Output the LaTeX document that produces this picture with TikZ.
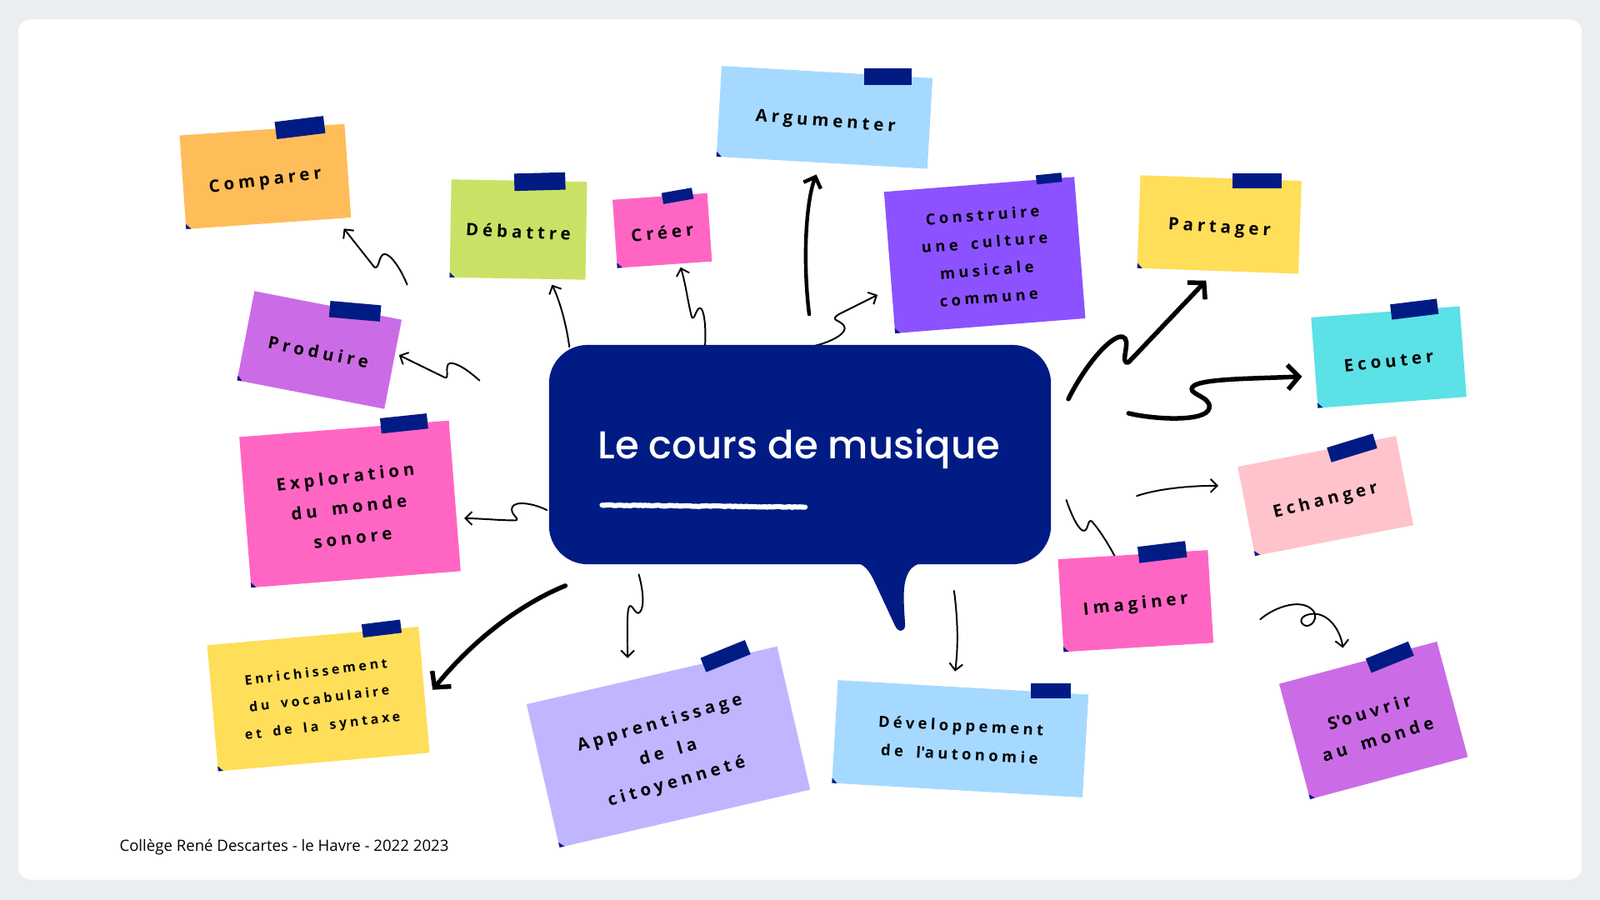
\documentclass[tikz,border=0pt]{standalone}
\usepackage{fontspec}
\usetikzlibrary{arrows.meta,calc,decorations.pathmorphing}
\newfontfamily\notefont{Open Sans}[LetterSpace=24, WordSpace=1.7]
\newfontfamily\piedfont{Open Sans}
\newfontfamily\titrefont{Poppins Medium}
\definecolor{fond}{HTML}{EBEEF1}
\definecolor{marine}{HTML}{001C84}
\definecolor{cOrange}{HTML}{FFBD59}
\definecolor{cLime}{HTML}{C9E265}
\definecolor{cRose}{HTML}{FF66C4}
\definecolor{cBleu}{HTML}{A6D9FF}
\definecolor{cViolet}{HTML}{8C52FF}
\definecolor{cJaune}{HTML}{FFDE59}
\definecolor{cCyan}{HTML}{5CE1E6}
\definecolor{cRosePale}{HTML}{FFC3CB}
\definecolor{cMauve}{HTML}{CB6CE6}
\definecolor{cLavande}{HTML}{C0B6FF}

\begin{document}
\begin{tikzpicture}[x=1pt, y=-1pt, line cap=round, line join=round,
  note/.style={inner sep=0pt, outer sep=0pt},
  ruban/.style={fill=marine, inner sep=0pt, minimum height=16pt},
  etiq/.style={font=\notefont\bfseries\fontsize{16.7}{30}\selectfont, align=center, inner sep=0pt},
  trait/.style={line width=1.6pt},
  fine/.style={line width=1.6pt, -{Straight Barb[length=6.5pt, width=13pt]}},
  moyen/.style={line width=3.6pt, -{Straight Barb[length=9pt, width=18pt]}},
  gros/.style={line width=4.5pt, -{Straight Barb[length=11pt, width=24pt]}}]
  % fond et carte
  \path[fill=fond, use as bounding box] (0,0) rectangle (1568,882);
  \fill[white, rounded corners=12pt] (18,19) rectangle (1550,862);

  % fleches
  \coordinate (d-comparer) at (399,279);  \coordinate (f-comparer) at (337,224);
  \draw[fine] (d-comparer) .. controls (393,264) and (383,249) .. (377,249)
    .. controls (371,249) and (372,264) .. (367,262) -- (f-comparer);
  \coordinate (d-produire) at (470,373);  \coordinate (f-produire) at (391,348);
  \draw[fine] (d-produire) .. controls (459,363) and (447,355) .. (441,356)
    .. controls (435,357) and (441,372) .. (436,370) -- (f-produire);
  \coordinate (d-debattre) at (558,340);  \coordinate (f-debattre) at (541,279);
  \draw[fine] (d-debattre) .. controls (555,318) and (549,296) .. (f-debattre);
  \coordinate (d-creer) at (691,338);  \coordinate (f-creer) at (667,262);
  \draw[fine] (d-creer) .. controls (692,320) and (690,302) .. (686,302)
    .. controls (682,302) and (681,314) .. (678,311)
    .. controls (674,296) and (672,278) .. (f-creer);
  \coordinate (d-argumenter) at (793,308);  \coordinate (f-argumenter) at (800,171);
  \draw[moyen] (d-argumenter) .. controls (787,260) and (789,200) .. (f-argumenter);
  \coordinate (d-construire) at (798,339);  \coordinate (f-construire) at (860,289);
  \draw[fine] (d-construire) .. controls (815,335) and (832,326) .. (827,319)
    .. controls (822,313) and (813,314) .. (822,308) -- (f-construire);
  \coordinate (d-partager) at (1047,391);  \coordinate (f-partager) at (1182,275);
  \draw[gros] (d-partager) .. controls (1065,355) and (1090,328) .. (1100,330)
    .. controls (1110,332) and (1096,358) .. (1106,355) -- (f-partager);
  \coordinate (d-ecouter) at (1106,405);  \coordinate (f-ecouter) at (1276,369);
  \draw[gros] (d-ecouter) .. controls (1130,411) and (1182,414) .. (1185,400)
    .. controls (1188,388) and (1160,386) .. (1170,378)
    .. controls (1180,371) and (1230,371) .. (f-ecouter);
  \coordinate (d-echanger) at (1114,486);  \coordinate (f-echanger) at (1194,476);
  \draw[fine] (d-echanger) .. controls (1135,479) and (1165,476) .. (f-echanger);
  \coordinate (d-imaginer) at (1045,490);  \coordinate (f-imaginer) at (1093,546);
  \draw[trait] (d-imaginer) .. controls (1050,505) and (1058,522) .. (1063,520)
    .. controls (1067,518) and (1066,508) .. (1070,511)
    .. controls (1078,520) and (1086,533) .. (f-imaginer);
  \coordinate (d-souvrir) at (1235,607);  \coordinate (f-souvrir) at (1316,635);
  \draw[fine] (d-souvrir) .. controls (1250,594) and (1278,585) .. (1288,600)
    .. controls (1292,608) and (1282,618) .. (1276,611)
    .. controls (1272,605) and (1282,600) .. (1292,602)
    .. controls (1305,605) and (1314,620) .. (f-souvrir);
  \coordinate (d-develop) at (935,579);  \coordinate (f-develop) at (936,658);
  \draw[fine] (d-develop) .. controls (939,610) and (939,635) .. (f-develop);
  \coordinate (d-apprent) at (626,563);  \coordinate (f-apprent) at (615,645);
  \draw[fine] (d-apprent) .. controls (630,577) and (632,595) .. (627,600)
    .. controls (623,604) and (620,592) .. (617,594)
    .. controls (614,597) and (615,620) .. (f-apprent);
  \coordinate (d-enrich) at (554,574);  \coordinate (f-enrich) at (424,676);
  \draw[gros] (d-enrich) .. controls (515,590) and (468,622) .. (f-enrich);
  \coordinate (d-explo) at (536,500);  \coordinate (f-explo) at (455,508);
  \draw[fine] (d-explo) .. controls (525,494) and (505,490) .. (502,497)
    .. controls (499,504) and (511,509) .. (505,510)
    .. controls (490,510) and (470,508) .. (f-explo);

  % bulle centrale
  \node[fill=marine, rounded corners=38pt, minimum width=492pt, minimum height=215pt] (bulle) at (784,445.5) {};
  \fill[marine] (834,550) .. controls (848,552) and (852,560) .. (857,570) -- (877,613)
    .. controls (880,620) and (887,620) .. (887,612) .. controls (886,595) and (884,575) .. (889,564)
    .. controls (892,556) and (897,553) .. (908,550) -- cycle;
  \node[text=white, font=\titrefont\fontsize{38}{40}\selectfont, inner sep=0pt] (titre) at (783,440) {Le cours de musique};
  % trait a la craie
  \draw[white, line width=5pt, decorate, decoration={random steps, segment length=2pt, amplitude=0.4pt}]
    (590,495) -- (789,497);

  % post-it
  \node[note, fill=cOrange, minimum width=162pt, minimum height=92pt, rotate=4] (comparer) at (260,173) {};
  \node[ruban, minimum width=48pt, minimum height=17pt, rotate=7] (r-comparer) at (294,125) {};
  \node[etiq, rotate=7] (t-comparer) at (260,178) {Comparer};

  \node[note, fill=cLime, minimum width=133pt, minimum height=96pt, rotate=-1] (debattre) at (508,225) {};
  \node[ruban, minimum width=50pt, minimum height=17pt, rotate=1.5] (r-debattre) at (529,178) {};
  \node[etiq, rotate=-2.5] (t-debattre) at (508,227) {Débattre};

  \node[note, fill=cRose, minimum width=93pt, minimum height=67pt, rotate=4] (creer) at (649,226) {};
  \node[ruban, minimum width=30pt, minimum height=11pt, rotate=10] (r-creer) at (664,192) {};
  \node[etiq, rotate=6] (t-creer) at (649,228) {Créer};

  \node[note, fill=cBleu, minimum width=207pt, minimum height=89pt, rotate=-3.3] (argumenter) at (808,115) {};
  \node[ruban, minimum width=47pt, rotate=0] (r-argumenter) at (870,75) {};
  \node[etiq, rotate=-4.5] (t-argumenter) at (809,120) {Argumenter};

  \node[note, fill=cViolet, minimum width=187pt, minimum height=139pt, rotate=4.5] (construire) at (965,250) {};
  \node[ruban, minimum width=25pt, minimum height=9pt, rotate=6] (r-construire) at (1028,175) {};
  \node[etiq, font=\notefont\bfseries\fontsize{15}{27}\selectfont, rotate=4.5] (t-construire) at (966,251)
    {Construire\\une culture\\musicale\\commune};

  \node[note, fill=cJaune, minimum width=158pt, minimum height=91pt, rotate=-2] (partager) at (1195,220) {};
  \node[ruban, minimum width=48pt, minimum height=15pt, rotate=0] (r-partager) at (1232,177) {};
  \node[etiq, rotate=-3.5] (t-partager) at (1195,224) {Partager};

  \node[note, fill=cCyan, minimum width=146pt, minimum height=89pt, rotate=4.3] (ecouter) at (1361,350) {};
  \node[ruban, minimum width=46pt, minimum height=15pt, rotate=7] (r-ecouter) at (1386,303) {};
  \node[etiq, rotate=6] (t-ecouter) at (1361,354) {Ecouter};

  \node[note, fill=cRosePale, minimum width=158pt, minimum height=89pt, rotate=11] (echanger) at (1299,486) {};
  \node[ruban, minimum width=47pt, minimum height=15pt, rotate=17] (r-echanger) at (1325,439) {};
  \node[etiq, rotate=14] (t-echanger) at (1299,491) {Echanger};

  \node[note, fill=cRose, minimum width=147pt, minimum height=91pt, rotate=3.5] (imaginer) at (1113,589) {};
  \node[ruban, minimum width=47pt, rotate=7] (r-imaginer) at (1139,541) {};
  \node[etiq, rotate=6] (t-imaginer) at (1113,593) {Imaginer};

  \node[note, fill=cMauve, minimum width=160pt, minimum height=117pt, rotate=15] (souvrir) at (1346,706) {};
  \node[ruban, minimum width=45pt, minimum height=15pt, rotate=22] (r-souvrir) at (1362,644) {};
  \node[etiq, font=\notefont\bfseries\fontsize{16.7}{28}\selectfont, rotate=17] (t-souvrir) at (1346,711)
    {S\textquotesingle ouvrir\\au monde};

  \node[note, fill=cBleu, minimum width=246pt, minimum height=101pt, rotate=-3.3] (develop) at (941,724) {};
  \node[ruban, minimum width=39pt, minimum height=14pt, rotate=0] (r-develop) at (1030,677) {};
  \node[etiq, font=\notefont\bfseries\fontsize{15}{28}\selectfont, rotate=-3] (t-develop) at (941,725)
    {Développement\\de l\textquotesingle autonomie};

  \node[note, fill=cLavande, minimum width=252pt, minimum height=144pt, rotate=13] (apprent) at (655,732) {};
  \node[ruban, minimum width=47pt, minimum height=15pt, rotate=22] (r-apprent) at (711,643) {};
  \node[etiq, rotate=16] (t-apprent) at (655,738) {Apprentissage\\de la\\citoyenneté};

  \node[note, fill=cJaune, minimum width=208pt, minimum height=124pt, rotate=5] (enrich) at (312,685) {};
  \node[ruban, minimum width=38pt, minimum height=13pt, rotate=7] (r-enrich) at (374,616) {};
  \node[etiq, font=\notefont\bfseries\fontsize{13}{26.5}\selectfont, rotate=7] (t-enrich) at (313,686)
    {Enrichissement\\du vocabulaire\\et de la syntaxe};

  \node[note, fill=cRose, minimum width=206pt, minimum height=148pt, rotate=4.5] (explo) at (343,494) {};
  \node[ruban, minimum width=46pt, minimum height=15pt, rotate=6] (r-explo) at (396,415) {};
  \node[etiq, rotate=7] (t-explo) at (342,497) {Exploration\\du monde\\sonore};

  \node[note, fill=cMauve, minimum width=147pt, minimum height=89pt, rotate=-11] (produire) at (313,343) {};
  \node[ruban, minimum width=50pt, minimum height=16pt, rotate=-5] (r-produire) at (348,305) {};
  \node[etiq, rotate=-11.5] (t-produire) at (312,345) {Produire};

  % coins plies
  \foreach \n in {comparer,debattre,creer,argumenter,construire,partager,ecouter,echanger,
                  imaginer,souvrir,develop,apprent,enrich,explo,produire}
    \fill[marine] (\n.south west) -- ($(\n.south west)!5pt!(\n.south east)$)
      -- ($(\n.south west)!5pt!(\n.north west)$) -- cycle;

  % pied de page
  \node[font=\piedfont\fontsize{15.2}{17}\selectfont, anchor=base west, inner sep=0pt] (pied) at (117,834)
    {Collège René Descartes - le Havre - 2022 2023};
\end{tikzpicture}
\end{document}
